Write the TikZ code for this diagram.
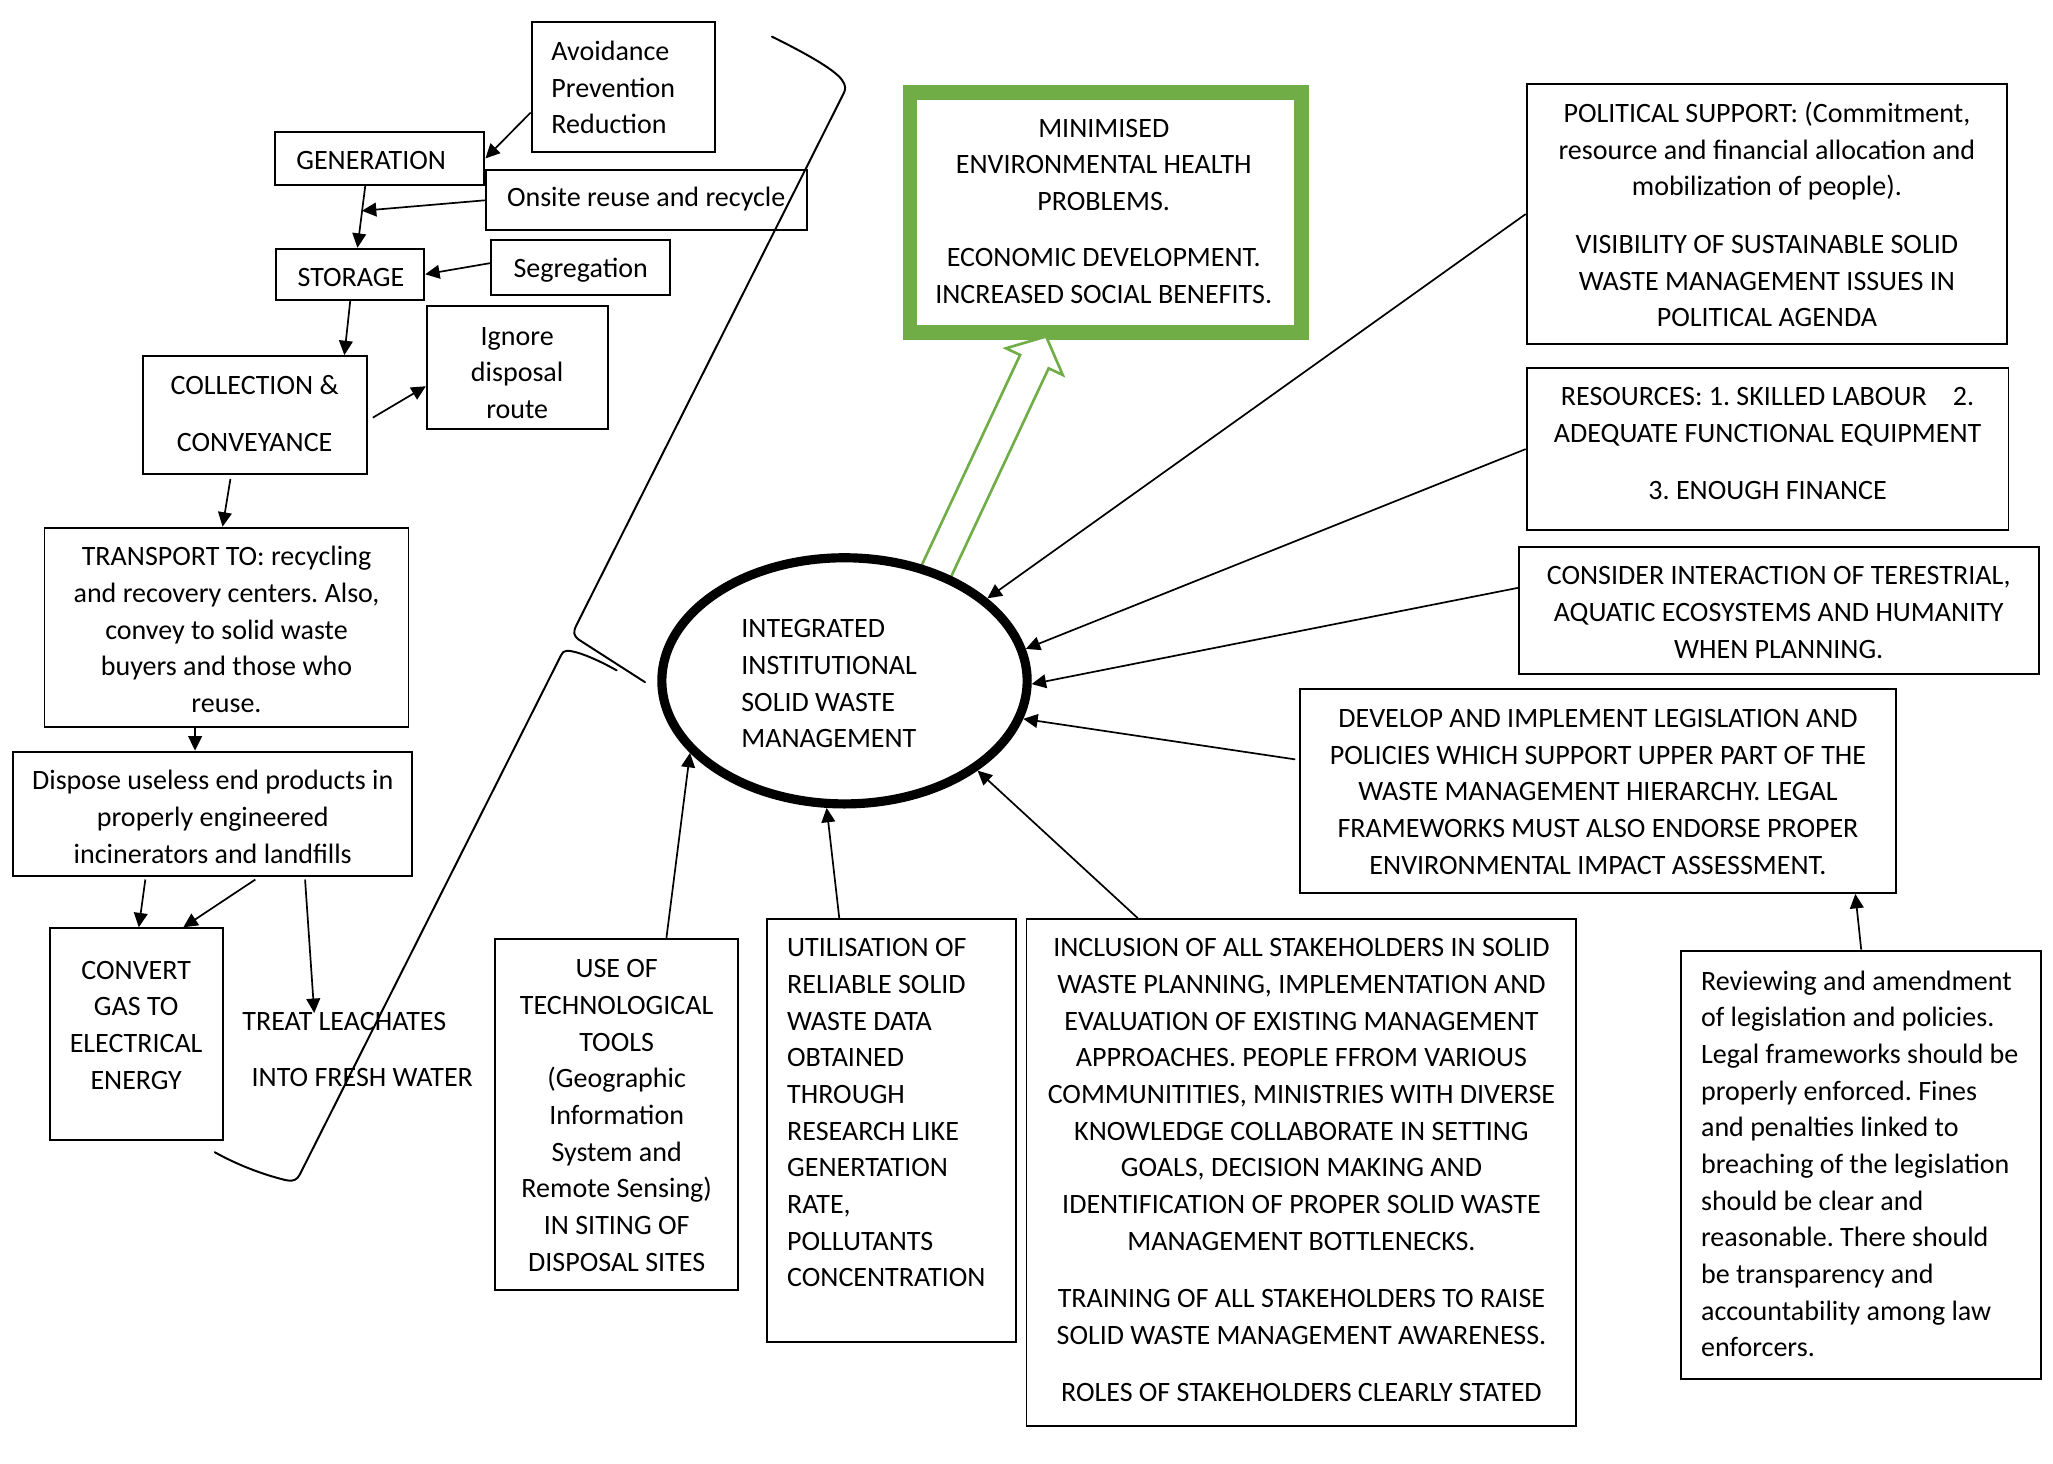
\documentclass[tikz,border=0pt]{standalone}
\usepackage{fontspec}
\setmainfont{Carlito}
\usetikzlibrary{arrows.meta,shapes.geometric,calc}
\definecolor{grn}{HTML}{70AD47}
\newcommand\myfs{\fontsize{21.4}{28}\selectfont\frenchspacing}
\begin{document}
\begin{tikzpicture}[x=1pt,y=-1pt,
  box/.style={draw,line width=1.5pt,rectangle,inner sep=0pt},
  txt/.style={inner sep=0pt,font=\myfs,align=center,execute at begin node=\strut,execute at end node=\strut},
  ltxt/.style={txt,align=left},
  arr/.style={line width=1.3pt,-{Triangle[length=11pt,width=10.5pt]}},
  brace/.style={line width=1.5pt,line join=round,line cap=round}
  ]
\useasboundingbox (0,0) rectangle (1568,1118);

% ---------- left chain ----------
\node[box,minimum width=140pt,minimum height=99pt] (avo) at (476,66.5) {};
\node[ltxt,anchor=west] (avoT) at (421,71) {Avoidance\\Prevention\\Reduction};
\node[box,minimum width=160pt,minimum height=40pt] (gen) at (290,121) {};
\node[txt] (genT) at (283.5,124) {GENERATION};
\node[box,minimum width=245pt,minimum height=46pt] (ons) at (493.5,153) {};
\node[txt] (onsT) at (493.5,152) {Onsite reuse and recycle};
\node[box,minimum width=113pt,minimum height=39pt] (sto) at (267.5,209.5) {};
\node[txt] (stoT) at (268,213) {STORAGE};
\node[box,minimum width=137pt,minimum height=42pt] (seg) at (443.5,204) {};
\node[txt] (segT) at (443.5,206) {Segregation};
\node[box,minimum width=138pt,minimum height=94pt] (ign) at (395,281) {};
\node[txt] (ignT) at (395,289) {Ignore\\disposal\\route};
\node[box,minimum width=171pt,minimum height=90pt] (col) at (194.5,317) {};
\node[txt] (colT) at (194.5,320) {COLLECTION \&\\[16pt]CONVEYANCE};
\node[box,minimum width=278pt,minimum height=152pt] (tra) at (173,479) {};
\node[txt] (traT) at (173,485) {TRANSPORT TO: recycling\\and recovery centers. Also,\\convey to solid waste\\buyers and those who\\reuse.};
\node[box,minimum width=305pt,minimum height=95pt] (dis) at (162.5,621.5) {};
\node[txt] (disT) at (162.5,628) {Dispose useless end products in\\properly engineered\\incinerators and landfills};
\node[box,minimum width=132pt,minimum height=162pt] (cnv) at (104,790) {};
\node[txt] (cnvT) at (104,787) {CONVERT\\GAS TO\\ELECTRICAL\\ENERGY};
\node[ltxt,anchor=west] (leach) at (185,805.5) {TREAT LEACHATES\\[15pt]\hspace*{7pt}INTO FRESH WATER};

\coordinate (j1) at (276.4,161);
\draw[arr] ([yshift=-19.5pt]avo.west) -- (gen.east);
\draw[arr] (ons.west) -- (j1);
\draw[arr] ([xshift=-11pt]gen.south) -- ([xshift=5.5pt]sto.north);
\draw[arr] ([yshift=3pt]seg.west) -- (sto.east);
\draw[arr] (sto.south) -- ([xshift=68.5pt]col.north);
\draw[arr] ([xshift=4pt,yshift=-2pt]col.east) -- ([yshift=-14pt]ign.west);
\draw[arr] ([xshift=-18.5pt,yshift=-3pt]col.south) -- ([xshift=-3pt]tra.north);
\draw[arr] ([xshift=-24pt]tra.south) -- ([xshift=-13.5pt]dis.north);
\draw[arr] ([xshift=-51.5pt,yshift=-2pt]dis.south) -- ([xshift=2pt]cnv.north);
\draw[arr] ([xshift=32.5pt,yshift=-2pt]dis.south) -- ([xshift=36pt]cnv.north);
\draw[arr] ([xshift=70.5pt,yshift=-2pt]dis.south) -- ([xshift=55pt,yshift=-1pt]leach.north west);

% ---------- brace ----------
\draw[brace] (589.6,28) .. controls (620,43) and (638,54) .. (643,61) .. controls (646,65) and (646,68) .. (644.5,71) -- (440,478) .. controls (437.5,483) and (438.5,486) .. (442,488.5) -- (492.6,521);
\draw[brace] (471,512) .. controls (455,503) and (440,497) .. (433,497) .. controls (430.5,497) and (429.5,498.5) .. (428.5,500.5) -- (229,897) .. controls (227,901) and (224,902.5) .. (219,901.5) .. controls (200,897) and (180,889) .. (164,880);

% ---------- outcome box and hollow arrow ----------
\node[draw=grn,line width=11pt,minimum width=299pt,minimum height=183.5pt,inner sep=0pt] (out) at (844.5,162.25) {};
\node[txt] (outT) at (843,165.5) {MINIMISED\\ENVIRONMENTAL HEALTH\\PROBLEMS.\\[15pt]ECONOMIC DEVELOPMENT.\\INCREASED SOCIAL BENEFITS.};
\draw[grn,line width=2pt,fill=white,line join=miter] (703.6,432.4) -- (779.1,271.1) -- (768.3,266) -- (799,257) -- (811.7,286.4) -- (800.9,281.3) -- (725.4,442.6) -- cycle;

% ---------- central ellipse ----------
\node[draw,ellipse,line width=7pt,minimum width=279pt,minimum height=188pt,inner sep=0pt] (ell) at (645,520) {};
\node[ltxt,anchor=west] (ellT) at (566,526.5) {INTEGRATED\\INSTITUTIONAL\\SOLID WASTE\\MANAGEMENT};

% ---------- right and bottom boxes ----------
\node[box,minimum width=367pt,minimum height=199pt] (pol) at (1349.5,163.5) {};
\node[txt] (polT) at (1349.5,168) {POLITICAL SUPPORT: (Commitment,\\resource and financial allocation and\\mobilization of people).\\[16pt]VISIBILITY OF SUSTAINABLE SOLID\\WASTE MANAGEMENT ISSUES IN\\POLITICAL AGENDA};
\node[box,minimum width=368pt,minimum height=124pt] (res) at (1350,343) {};
\node[txt] (resT) at (1350,343) {RESOURCES: 1. SKILLED LABOUR\hspace{20pt}2.\\ADEQUATE FUNCTIONAL EQUIPMENT\\[16pt]3. ENOUGH FINANCE};
\node[box,minimum width=397pt,minimum height=97pt] (con) at (1358.5,466.5) {};
\node[txt] (conT) at (1358.5,472) {CONSIDER INTERACTION OF TERESTRIAL,\\AQUATIC ECOSYSTEMS AND HUMANITY\\WHEN PLANNING.};
\node[box,minimum width=455pt,minimum height=156pt] (dev) at (1220.5,604) {};
\node[txt] (devT) at (1220.5,609) {DEVELOP AND IMPLEMENT LEGISLATION AND\\POLICIES WHICH SUPPORT UPPER PART OF THE\\WASTE MANAGEMENT HIERARCHY. LEGAL\\FRAMEWORKS MUST ALSO ENDORSE PROPER\\ENVIRONMENTAL IMPACT ASSESSMENT.};
\node[box,minimum width=275pt,minimum height=327pt] (rev) at (1421.5,889.5) {};
\node[ltxt,anchor=west] (revT) at (1299,893) {Reviewing and amendment\\of legislation and policies.\\Legal frameworks should be\\properly enforced. Fines\\and penalties linked to\\breaching of the legislation\\should be clear and\\reasonable. There should\\be transparency and\\accountability among law\\enforcers.};
\node[box,minimum width=420pt,minimum height=387pt] (inc) at (994,895.5) {};
\node[txt] (incT) at (994,898) {INCLUSION OF ALL STAKEHOLDERS IN SOLID\\WASTE PLANNING, IMPLEMENTATION AND\\EVALUATION OF EXISTING MANAGEMENT\\APPROACHES. PEOPLE FFROM VARIOUS\\COMMUNITITIES, MINISTRIES WITH DIVERSE\\KNOWLEDGE COLLABORATE IN SETTING\\GOALS, DECISION MAKING AND\\IDENTIFICATION OF PROPER SOLID WASTE\\MANAGEMENT BOTTLENECKS.\\[16pt]TRAINING OF ALL STAKEHOLDERS TO RAISE\\SOLID WASTE MANAGEMENT AWARENESS.\\[16pt]ROLES OF STAKEHOLDERS CLEARLY STATED};
\node[box,minimum width=190pt,minimum height=323pt] (uti) at (681,863.5) {};
\node[ltxt,anchor=west] (utiT) at (601,854) {UTILISATION OF\\RELIABLE SOLID\\WASTE DATA\\OBTAINED\\THROUGH\\RESEARCH LIKE\\GENERTATION\\RATE,\\POLLUTANTS\\CONCENTRATION};
\node[box,minimum width=186pt,minimum height=268pt] (use) at (471,851) {};
\node[txt] (useT) at (471,856) {USE OF\\TECHNOLOGICAL\\TOOLS\\(Geographic\\Information\\System and\\Remote Sensing)\\IN SITING OF\\DISPOSAL SITES};

% ---------- connectors to the ellipse ----------
\draw[arr] (pol.west) -- (ell.30);
\draw[arr] (res.west) -- (ell.10);
\draw[arr] ([yshift=17.5pt]con.west) -- (ell.-1);
\draw[arr] ([xshift=-3pt,yshift=24pt]dev.west) -- (ell.-12);
\draw[arr] ([xshift=-125pt]inc.north) -- (ell.-34);
\draw[arr] ([xshift=-40pt]uti.north) -- (ell.-98);
\draw[arr] ([xshift=38pt]use.north) -- (ell.-155);
\draw[arr] (rev.north) -- ([xshift=196.5pt]dev.south);
\end{tikzpicture}
\end{document}
